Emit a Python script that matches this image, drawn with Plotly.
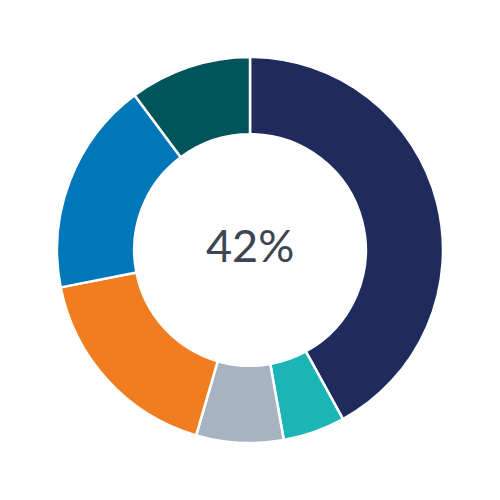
import plotly.graph_objects as go

labels = ["A", "B", "C", "D", "E", "F"]
values = [42, 5.2, 7.3, 17.4, 17.9, 10.2]
colors = ["#1e2b5c", "#1bb5b5", "#a8b3c2", "#f07e20", "#0077b8", "#00555a"]
center_text = "42%"

fig = go.Figure(go.Pie(
    labels=labels,
    values=values,
    hole=0.6,
    sort=False,
    direction="clockwise",
    rotation=0,
    marker=dict(colors=colors, line=dict(color="white", width=2.5)),
    textinfo="none",
    hoverinfo="label+percent",
))

# page body has an 8px margin, so shift the pie up/left to compensate
fig.add_annotation(
    text=center_text, x=0.5, y=0.5, xref="paper", yref="paper",
    showarrow=False, yshift=5,
    font=dict(family="Lato", size=45, color="#3d4550"),
)

fig.update_layout(
    width=500, height=500,
    margin=dict(l=49, r=65, t=49, b=65),
    showlegend=False,
    paper_bgcolor="white",
    plot_bgcolor="white",
)

fig.write_html("out.html")
